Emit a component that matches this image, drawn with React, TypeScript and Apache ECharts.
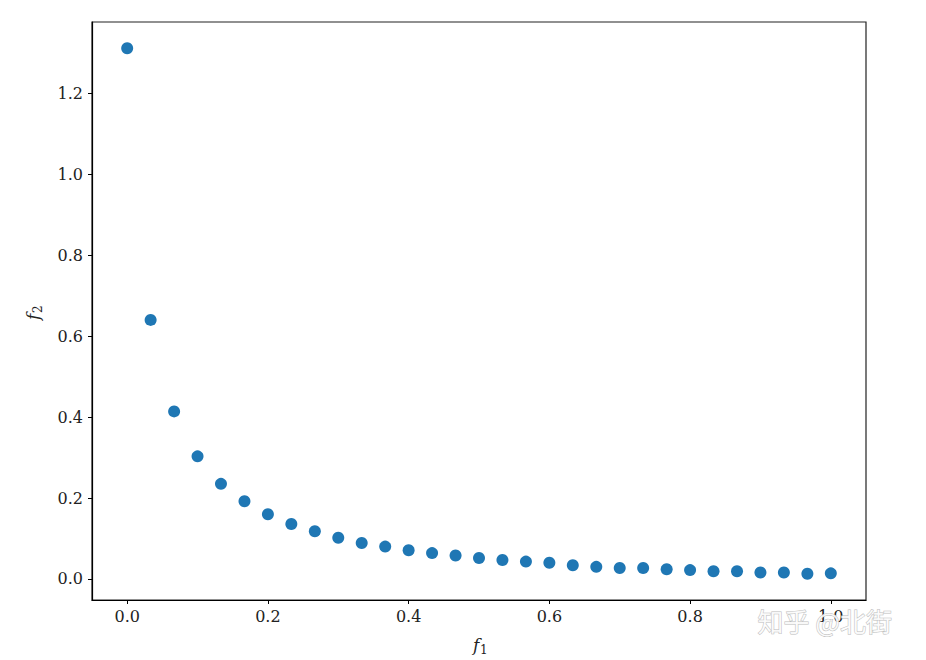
import React, { useEffect, useRef } from "react";
import * as echarts from "echarts";

const f1Values = [
  0.0, 0.0333, 0.0667, 0.1, 0.1333, 0.1667, 0.2, 0.2333, 0.2667, 0.3, 0.3333,
  0.3667, 0.4, 0.4333, 0.4667, 0.5, 0.5333, 0.5667, 0.6, 0.6333, 0.6667, 0.7,
  0.7333, 0.7667, 0.8, 0.8333, 0.8667, 0.9, 0.9333, 0.9667, 1.0,
];
const f2Values = [
  1.311, 0.64, 0.414, 0.303, 0.235, 0.192, 0.16, 0.136, 0.118, 0.102, 0.089,
  0.08, 0.071, 0.064, 0.058, 0.052, 0.047, 0.043, 0.04, 0.034, 0.03, 0.027,
  0.027, 0.024, 0.022, 0.019, 0.019, 0.016, 0.016, 0.013, 0.014,
];
const xTicks = [0.0, 0.2, 0.4, 0.6, 0.8, 1.0];
const yTicks = [0.0, 0.2, 0.4, 0.6, 0.8, 1.0, 1.2];

export default function App() {
  const ref = useRef<HTMLDivElement>(null);
  useEffect(() => {
    document.body.style.margin = "0";
    const chart = echarts.init(ref.current!, null, { renderer: "svg" });
    const font = "DejaVu Serif";
    const axisCommon = {
      axisLine: { show: true, onZero: false, lineStyle: { color: "#000", width: 1.2 } },
      splitLine: { show: false },
    };
    chart.setOption({
      animation: false,
      backgroundColor: "#fff",
      grid: {
        left: 92,
        right: 60,
        top: 22,
        bottom: 60,
        show: true,
        borderColor: "#222",
        borderWidth: 1.2,
        backgroundColor: "transparent",
      },
      xAxis: {
        type: "value",
        min: -0.05,
        max: 1.05,
        ...axisCommon,
        axisTick: {
          show: true,
          inside: false,
          length: 4,
          customValues: xTicks,
          lineStyle: { color: "#000", width: 1 },
        },
        axisLabel: {
          show: true,
          customValues: xTicks,
          margin: 8,
          fontFamily: font,
          fontSize: 16,
          color: "#222",
          formatter: (v: number) => v.toFixed(1),
        },
      },
      yAxis: {
        type: "value",
        min: -0.0519,
        max: 1.376,
        ...axisCommon,
        axisTick: {
          show: true,
          inside: false,
          length: 4,
          customValues: yTicks,
          lineStyle: { color: "#000", width: 1 },
        },
        axisLabel: {
          show: true,
          customValues: yTicks,
          margin: 9,
          fontFamily: font,
          fontSize: 16,
          color: "#222",
          formatter: (v: number) => v.toFixed(1),
        },
      },
      series: [
        {
          type: "scatter",
          data: f1Values.map((x, i) => [x, f2Values[i]]),
          symbol: "circle",
          symbolSize: 12,
          itemStyle: { color: "#1f77b4", opacity: 1 },
        },
      ],
      graphic: [
        {
          type: "group",
          left: 473,
          top: 636,
          children: [
            {
              type: "text",
              x: 0,
              y: 0,
              style: { text: "f", font: `italic 17px '${font}'`, fill: "#222" },
            },
            {
              type: "text",
              x: 7,
              y: 8,
              style: { text: "1", font: `12px '${font}'`, fill: "#222" },
            },
          ],
        },
        {
          type: "group",
          x: 24,
          y: 320,
          rotation: Math.PI / 2,
          children: [
            {
              type: "text",
              x: 0,
              y: 0,
              style: { text: "f", font: `italic 17px '${font}'`, fill: "#222" },
            },
            {
              type: "text",
              x: 7,
              y: 8,
              style: { text: "2", font: `12px '${font}'`, fill: "#222" },
            },
          ],
        },
        {
          type: "text",
          left: 757,
          top: 607,
          z: 100,
          style: {
            text: "知乎 @北街",
            font: "26px 'Noto Sans CJK SC'",
            fill: "rgba(255,255,255,0.85)",
            stroke: "#bdbdbd",
            lineWidth: 1,
          },
        },
      ],
    });
    return () => chart.dispose();
  }, []);
  return <div ref={ref} style={{ width: 926, height: 660 }} />;
}
